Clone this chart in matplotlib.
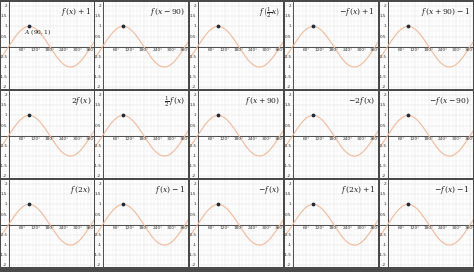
import numpy as np
import matplotlib.pyplot as plt

plt.rcParams['mathtext.fontset'] = 'dejavuserif'

# panel titles, row by row
titles = [
    r'$f\,(x)+1$', r'$f\,(x-90)$', r'$f\,\left(\frac{1}{2}x\right)$', r'$-f\,(x)+1$', r'$f\,(x+90)-1$',
    r'$2f\,(x)$', r'$\frac{1}{2}\,f\,(x)$', r'$f\,(x+90)$', r'$-2f\,(x)$', r'$-f\,(x-90)$',
    r'$f\,(2x)$', r'$f\,(x)-1$', r'$-f\,(x)$', r'$f\,(2x)+1$', r'$-f\,(x)-1$',
]
# base function f(x) = sin(x), x in degrees
deg = np.linspace(-40, 380, 600)
amp = 1.0
# point A
point_x = 90
point_y = 1
x_ticks = [60, 120, 180, 240, 300, 360]
x_tick_labels = ['60°', '120°', '180°', '240°', '300°', '360°']
y_ticks = [-2, -1.5, -1, -0.5, 0.5, 1, 1.5, 2]
y_tick_labels = ['-2', '-1.5', '-1', '-0.5', '0.5', '1', '1.5', '2']

W, H = 474, 272
fig = plt.figure(figsize=(W / 100, H / 100), dpi=100, facecolor='#4a4a4a')

col_left = [1, 95, 190, 285, 380]
row_top = [2, 91, 180]
pw, ph = 93, 87

for r in range(3):
    for c in range(5):
        k = r * 5 + c
        ax = fig.add_axes([col_left[c] / W, 1 - (row_top[r] + ph) / H, pw / W, ph / H])
        ax.set_facecolor('white')
        ax.set_xlim(-33, 373)
        ax.set_ylim(-2.08, 2.2)

        # grid
        for gx in np.arange(-30, 376, 15):
            ax.axvline(gx, color='#eeeeee' if gx % 60 else '#dedede', lw=0.35, zorder=0)
        for gy in np.arange(-2, 2.01, 0.25):
            ax.axhline(gy, color='#eeeeee' if gy % 0.5 else '#dedede', lw=0.35, zorder=0)

        ax.axhline(0, color='#333333', lw=0.6, zorder=1)
        ax.axvline(0, color='#333333', lw=0.6, zorder=1)

        ax.plot(deg, amp * np.sin(np.radians(deg)), color='#f4b996', lw=0.8, zorder=2)
        ax.scatter([point_x], [point_y], s=3, color='#1f2a3a', zorder=3)

        for sp in ax.spines.values():
            sp.set_visible(False)
        ax.set_xticks([])
        ax.set_yticks([])
        for xt, lab in zip(x_ticks, x_tick_labels):
            ax.text(xt, -0.08, lab, fontsize=3.1, ha='center', va='top', color='#333333')
        for yt, lab in zip(y_ticks, y_tick_labels):
            ax.text(-5, yt, lab, fontsize=3.0, ha='right', va='center', color='#333333')

        ax.text(0.97, 0.95, titles[k], transform=ax.transAxes, fontsize=5.5,
                ha='right', va='top', color='#222222')
        if k == 0:
            ax.text(point_x - 22, point_y - 0.3, r'$A\ (90,1)$', fontsize=4.3,
                    ha='left', va='center', color='#222222')

fig.savefig('out.png', dpi=100, facecolor=fig.get_facecolor())
